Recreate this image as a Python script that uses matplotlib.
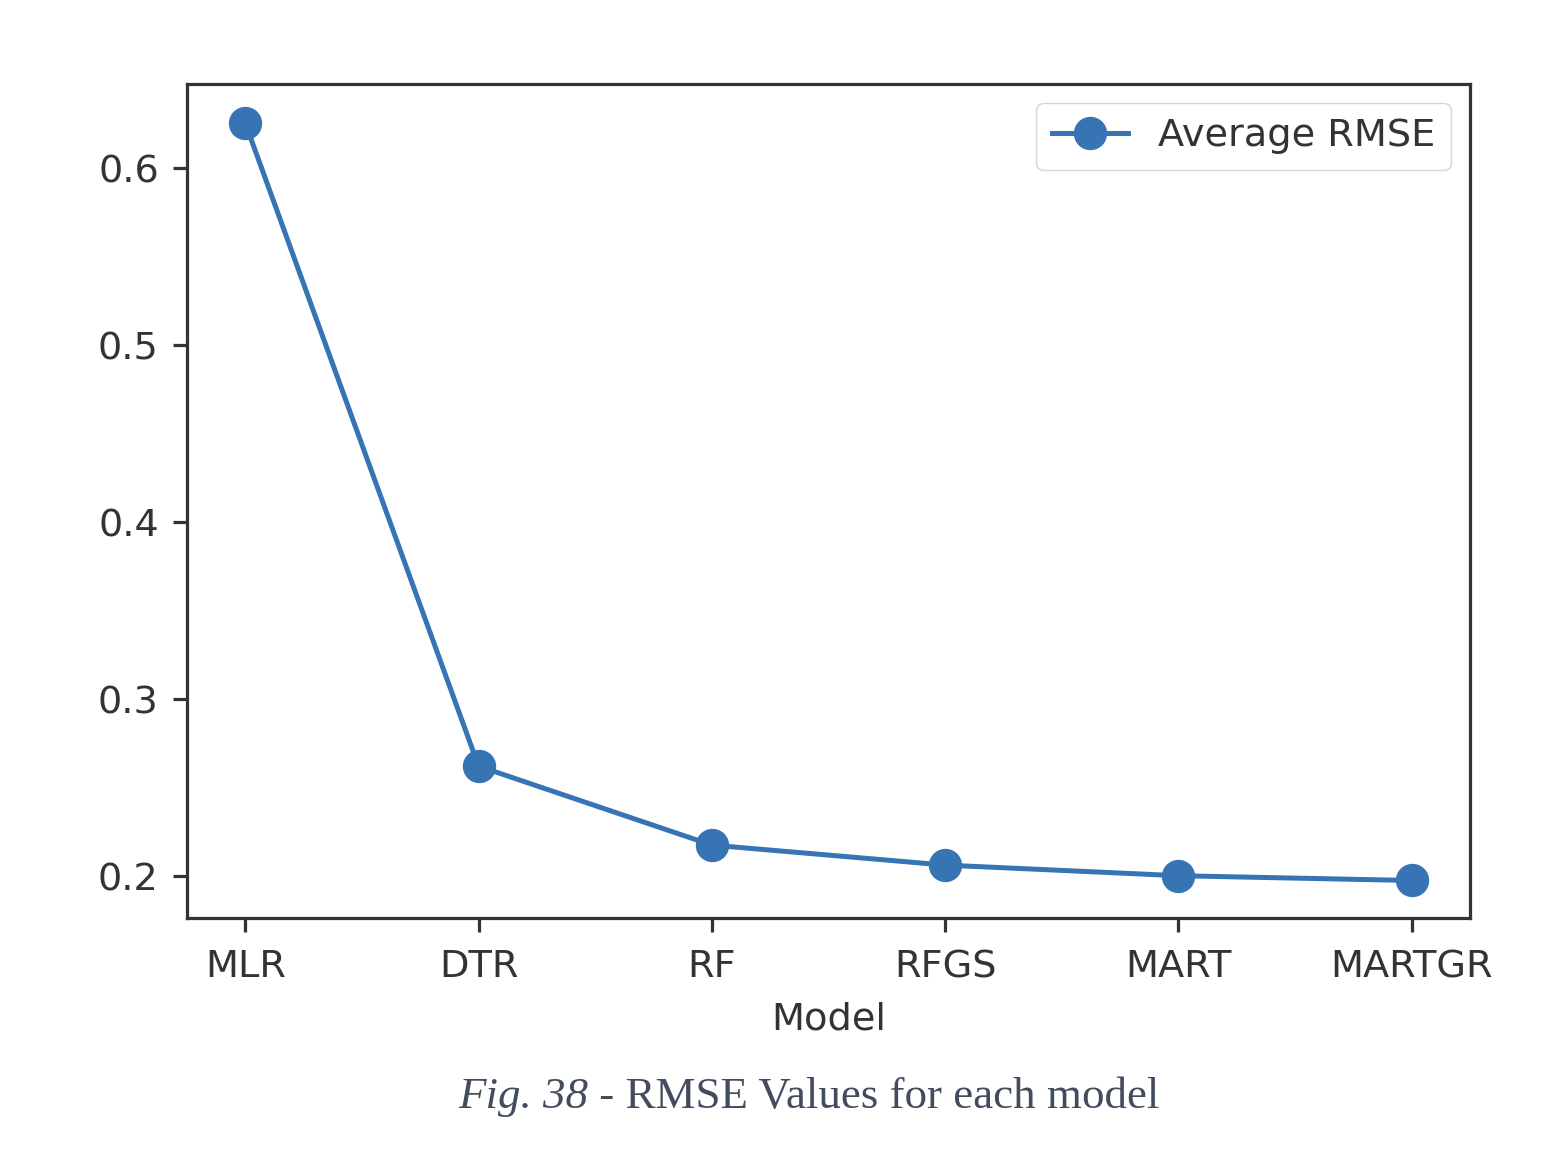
import matplotlib
matplotlib.use("Agg")
import matplotlib.pyplot as plt

models = ['MLR', 'DTR', 'RF', 'RFGS', 'MART', 'MARTGR']
avg_rmse = [0.6254, 0.2621, 0.2175, 0.2062, 0.2002, 0.1975]
yticks = [0.2, 0.3, 0.4, 0.5, 0.6]

s = 2.9  # scale from the small notebook figure
plt.rcParams['font.family'] = 'DejaVu Sans'
plt.rcParams['font.size'] = 27.5
plt.rcParams['axes.linewidth'] = 0.8 * s
plt.rcParams['xtick.major.size'] = 3.5 * s
plt.rcParams['ytick.major.size'] = 3.5 * s
plt.rcParams['xtick.major.width'] = 0.8 * s
plt.rcParams['ytick.major.width'] = 0.8 * s
plt.rcParams['xtick.major.pad'] = 4.2 * s
plt.rcParams['ytick.major.pad'] = 3.5 * s
plt.rcParams['axes.labelpad'] = 4 * s

fig = plt.figure(figsize=(15.54, 11.6), dpi=100)
ax = fig.add_axes([0.1203, 0.2086, 0.8257, 0.719])

ax.plot(range(len(models)), avg_rmse, color='#3674b3', marker='o',
        linewidth=3.6, markersize=23, label='Average RMSE')

ax.set_xticks(range(len(models)))
ax.set_xticklabels(models)
ax.set_yticks(yticks)
ax.set_ylim(0.1763, 0.6475)
ax.set_xlabel('Model', color='#333333')

for sp in ax.spines.values():
    sp.set_color('#333333')
ax.tick_params(colors='#333333', labelcolor='#333333')

leg = ax.legend(loc='upper right', handlelength=2.0, edgecolor='#cccccc')
for t in leg.get_texts():
    t.set_color('#333333')

# caption: italic part then regular part, placed one after the other
cap_color = '#434c5e'
x0, y0 = 458 / 1554, 1 - 1108 / 1160
t1 = fig.text(x0, y0, 'Fig. 38', family='Liberation Serif', style='italic',
              fontsize=32.4, color=cap_color, ha='left', va='baseline')
fig.canvas.draw()
bb = t1.get_window_extent()
fig.text(bb.x1 / fig.bbox.width, y0, ' - RMSE Values for each model',
         family='Liberation Serif', fontsize=32.4, color=cap_color,
         ha='left', va='baseline')

fig.savefig('out.png', dpi=100)
